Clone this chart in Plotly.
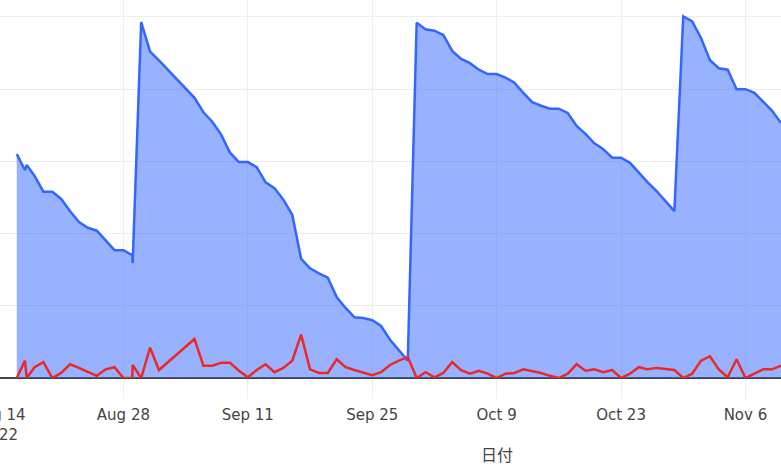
import plotly.graph_objects as go

dates = [
    "2022-08-16", "2022-08-16 22:00", "2022-08-17 03:00", "2022-08-18", "2022-08-19",
    "2022-08-20", "2022-08-21", "2022-08-22", "2022-08-23", "2022-08-24",
    "2022-08-25", "2022-08-26", "2022-08-27", "2022-08-28", "2022-08-29 00:00",
    "2022-08-29 01:00", "2022-08-30", "2022-08-31", "2022-09-01", "2022-09-05",
    "2022-09-06", "2022-09-07", "2022-09-08", "2022-09-09", "2022-09-10",
    "2022-09-11", "2022-09-12", "2022-09-13", "2022-09-14", "2022-09-15",
    "2022-09-16", "2022-09-17", "2022-09-18", "2022-09-19", "2022-09-20",
    "2022-09-21", "2022-09-22", "2022-09-23", "2022-09-24", "2022-09-25",
    "2022-09-26", "2022-09-27", "2022-09-28", "2022-09-29", "2022-09-30",
    "2022-10-01", "2022-10-02", "2022-10-03", "2022-10-04", "2022-10-05",
    "2022-10-06", "2022-10-07", "2022-10-08", "2022-10-09", "2022-10-10",
    "2022-10-11", "2022-10-12", "2022-10-13", "2022-10-14", "2022-10-15",
    "2022-10-16", "2022-10-17", "2022-10-18", "2022-10-19", "2022-10-20",
    "2022-10-21", "2022-10-22", "2022-10-23", "2022-10-24", "2022-10-25",
    "2022-10-26", "2022-10-27", "2022-10-28", "2022-10-29", "2022-10-30",
    "2022-10-31", "2022-11-01", "2022-11-02", "2022-11-03", "2022-11-04",
    "2022-11-05", "2022-11-06", "2022-11-07", "2022-11-08", "2022-11-09",
    "2022-11-10",
]

stock = [
    310, 288, 295, 280, 258,
    258, 248, 231, 216, 208,
    204, 191, 177, 177, 170,
    159, 493, 452, 440, 388,
    368, 355, 337, 312, 299,
    299, 292, 271, 263, 247,
    226, 165, 152, 145, 139,
    112, 97, 84, 83, 80,
    72, 53, 39, 24, 492,
    483, 481, 475, 453, 442,
    436, 427, 421, 421, 416,
    409, 395, 382, 377, 373,
    373, 367, 349, 338, 325,
    317, 305, 305, 298, 284,
    271, 259, 245, 231, 501,
    494, 471, 440, 429, 427,
    400, 400, 395, 382, 370,
    353,
]

sales = [
    0, 24, 0, 15, 22,
    0, 7, 19, 14, 8,
    3, 12, 15, 0, 0,
    18, 0, 42, 11, 54,
    17, 17, 21, 21, 10,
    1, 11, 19, 8, 14,
    24, 60, 12, 7, 7,
    26, 15, 11, 7, 4,
    8, 18, 24, 29, 0,
    8, 1, 7, 22, 11,
    6, 10, 6, 0, 6,
    7, 12, 10, 7, 3,
    0, 6, 19, 10, 12,
    8, 11, 0, 6, 15,
    12, 14, 12, 11, 0,
    6, 24, 30, 12, 1,
    26, 0, 6, 12, 12,
    17,
]

x_range = ["2022-08-14", "2022-11-10"]
y_range = [0, 523.5]
x_title = "日付"

font_family = "DejaVu Sans, Noto Sans CJK JP, sans-serif"

fig = go.Figure()
fig.add_trace(go.Scatter(
    x=dates, y=stock, mode="lines", name="在庫",
    line=dict(color="rgb(51,102,255)", width=2.5),
    fill="tozeroy", fillcolor="rgba(51,102,255,0.5)",
))
fig.add_trace(go.Scatter(
    x=dates, y=sales, mode="lines", name="販売",
    line=dict(color="rgb(235,40,40)", width=2.5),
))

fig.update_layout(
    template="none",
    width=782, height=476,
    margin=dict(l=0, r=0, t=0, b=98, pad=0),
    paper_bgcolor="white", plot_bgcolor="white",
    showlegend=False,
    font=dict(family=font_family, size=15, color="#444"),
    xaxis=dict(
        type="date", range=x_range, automargin=False,
        tick0="2022-08-14", dtick=14 * 86400000,
        showgrid=True, gridcolor="#eee", gridwidth=1,
        ticks="outside", ticklen=20, tickcolor="#eee", tickwidth=1,
        ticklabeloverflow="allow", ticklabelstandoff=3,
        zeroline=False, showline=False,
    ),
    yaxis=dict(
        range=y_range, dtick=100, automargin=False,
        showgrid=True, gridcolor="#eee", gridwidth=1,
        showticklabels=False, ticks="",
        zeroline=True, zerolinecolor="#444", zerolinewidth=1.5,
        showline=False,
    ),
    annotations=[dict(
        text=x_title, xref="paper", yref="paper",
        x=498 / 782, y=0, yshift=-77, xanchor="center", yanchor="middle",
        showarrow=False, font=dict(family=font_family, size=16, color="#444"),
    )],
)

fig.write_html(
    "out.html",
    config={"displayModeBar": False},
    post_script="document.body.style.margin='0 0 0 -1px';document.body.style.overflow='hidden';",
)
